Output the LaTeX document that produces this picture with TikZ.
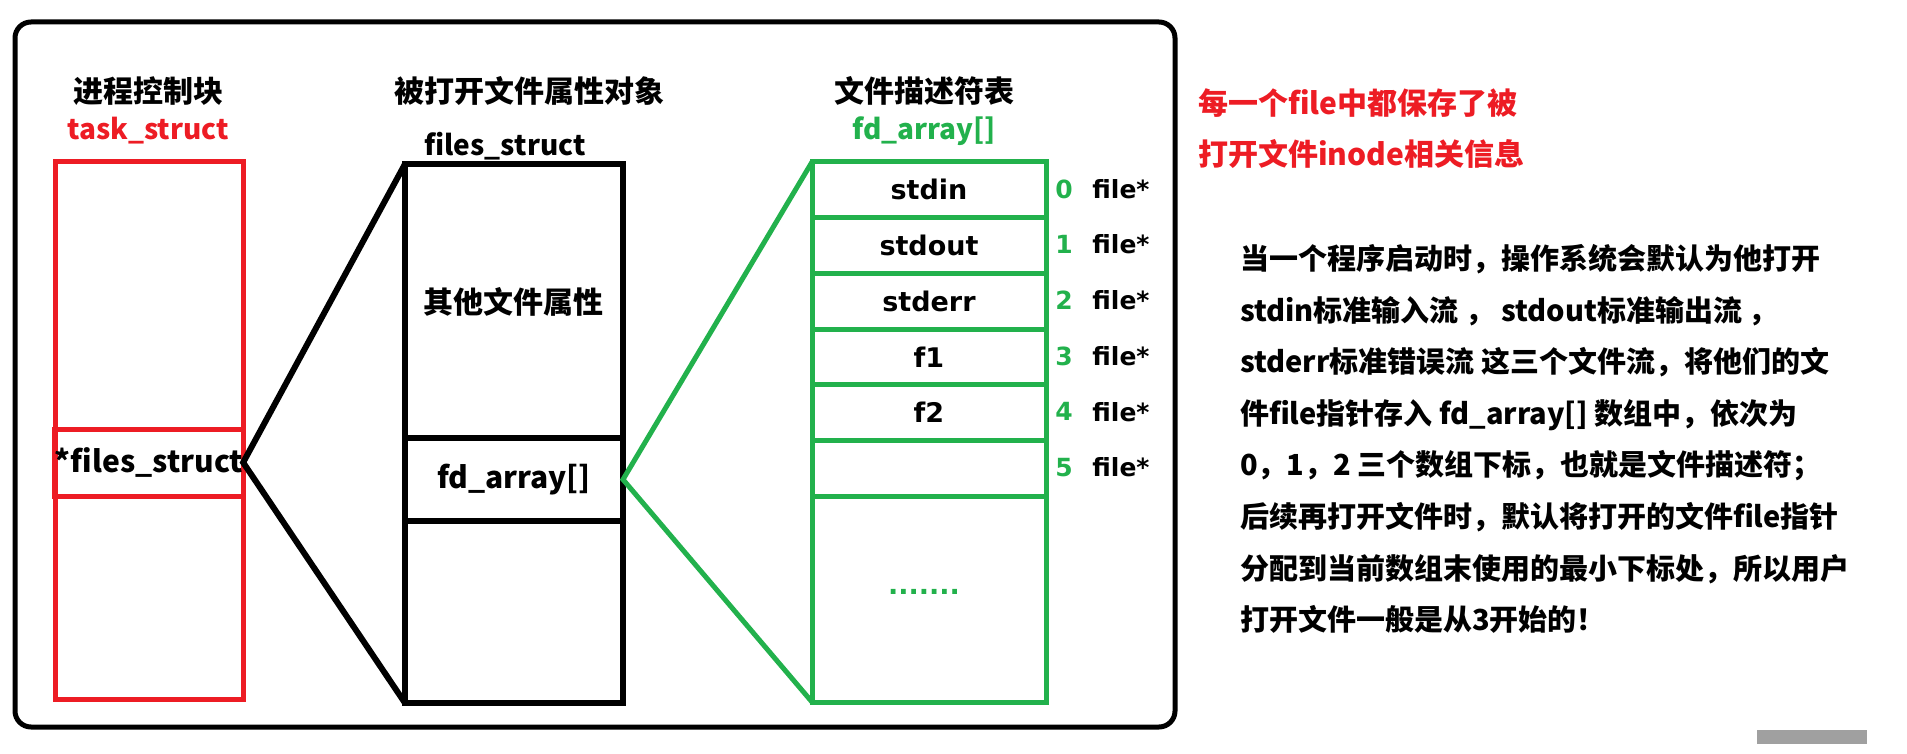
\documentclass[tikz,border=0pt]{standalone}
\usepackage{fontspec}
\newfontfamily\cjk{Noto Sans CJK SC}
\newfontfamily\dvs{DejaVu Sans}
\definecolor{pcbred}{RGB}{237,28,36}
\definecolor{fdgreen}{RGB}{34,177,76}
\definecolor{bargray}{RGB}{160,160,160}

\begin{document}
\begin{tikzpicture}[x=1pt,y=-1pt,
  every node/.style={inner sep=0pt,outer sep=0pt},
  title/.style={font=\cjk\bfseries\fontsize{30}{32}\selectfont},
  subtitle/.style={font=\cjk\bfseries\fontsize{28}{30}\selectfont},
  boxtext/.style={font=\cjk\bfseries\fontsize{30}{32}\selectfont},
  redbox/.style={draw=pcbred,line width=5pt},
  blackbox/.style={draw=black,line width=6pt},
  greenbox/.style={draw=fdgreen,line width=5pt},
  celltext/.style={font=\dvs\bfseries\fontsize{27}{29}\selectfont},
  index/.style={font=\dvs\bfseries\fontsize{25}{27}\selectfont,text=fdgreen},
  ptr/.style={font=\dvs\bfseries\fontsize{25}{27}\selectfont},
  note/.style={font=\cjk\bfseries\fontsize{30}{32}\selectfont,anchor=west},
  para/.style={font=\cjk\bfseries\fontsize{29}{51.6}\selectfont,align=left,anchor=west}]
\path[use as bounding box] (0,0) rectangle (1907,754);
\draw[line width=5pt,rounded corners=16pt] (15,22) rectangle (1175,727);

% task_struct
\node[title] (pcbt) at (148,91) {进程控制块};
\node[subtitle,text=pcbred] (pcbs) at (148,131) {task\_struct};
\node[redbox,minimum width=188,minimum height=537] (task) at (149,430.5) {};
\node[redbox,boxtext,minimum width=188,minimum height=67] (fsptr) at (149,462.5) {*files\_struct};

% files_struct
\node[title] (fst) at (529,91) {被打开文件属性对象};
\node[subtitle] (fss) at (505,146) {files\_struct};
\node[blackbox,minimum width=218,minimum height=539] (files) at (514,433.5) {};
\node[boxtext] (other) at (513,302) {其他文件属性};
\node[blackbox,boxtext,minimum width=218,minimum height=83] (fdptr) at (514,479.5) {fd\_array[]};

% fd_array
\node[title] (fdtt) at (924,91) {文件描述符表};
\node[subtitle,text=fdgreen] (fdts) at (924,131) {fd\_array[]};
\node[greenbox,minimum width=234,minimum height=540] (fdt) at (929,432) {};
\foreach \name [count=\i from 0] in {stdin,stdout,stderr,f1,f2,{}} {
  \node[greenbox,celltext,minimum width=234,minimum height=55.67] (cell\i) at (929,{189.83+55.67*\i}) {\name};
  \node[index] (idx\i) at (1064,{189+55.67*\i}) {\i};
  \node[ptr] (ptr\i) at (1121,{189+55.67*\i}) {file*};
}
\node[celltext,text=fdgreen] (more) at (924,592) {.......};

\draw[line width=6pt] (files.north west) -- (fsptr.east) -- (files.south west);
\draw[fdgreen,line width=5pt] (fdt.north west) -- (fdptr.east) -- (fdt.south west);

% notes
\node[note,text=pcbred] (hint1) at (1198,103) {每一个file中都保存了被};
\node[note,text=pcbred] (hint2) at (1198,154) {打开文件inode相关信息};
\node[para] (desc) at (1240,439) {当一个程序启动时，操作系统会默认为他打开\\
stdin标准输入流 ， stdout标准输出流 ，\\
stderr标准错误流 这三个文件流，将他们的文\\
件file指针存入 fd\_array[] 数组中，依次为\\
0，1，2 三个数组下标，也就是文件描述符；\\
后续再打开文件时，默认将打开的文件file指针\\
分配到当前数组末使用的最小下标处，所以用户\\
打开文件一般是从3开始的！};
\fill[bargray] (1757,730) rectangle (1867,744);
\end{tikzpicture}
\end{document}
